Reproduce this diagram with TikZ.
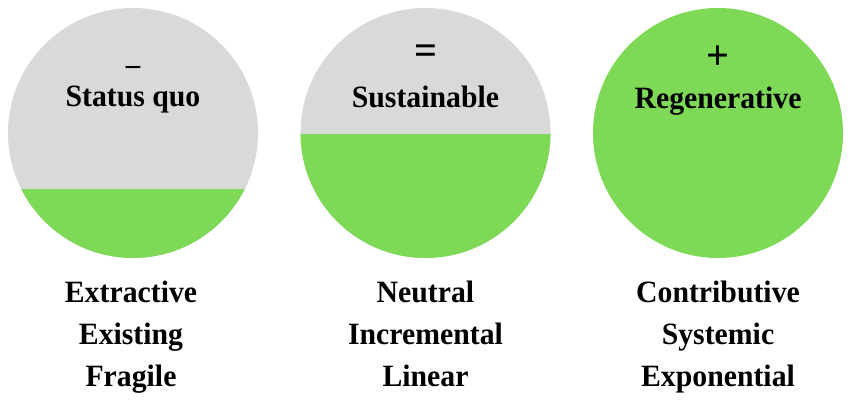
\documentclass[tikz,border=0pt]{standalone}
\usepackage{fontspec}
\setmainfont[FakeStretch=0.96]{Liberation Serif}
\definecolor{discgray}{HTML}{D9D9D9}
\definecolor{discgreen}{HTML}{7ED957}
\begin{document}
\begin{tikzpicture}[x=1pt,y=-1pt,
  disc/.style={circle, minimum size=250pt, inner sep=0pt, draw=none},
  lbl/.style={font=\fontsize{31}{36}\selectfont\bfseries, inner sep=0pt, anchor=base},
  sign/.style={font=\fontsize{30}{36}\selectfont\bfseries, inner sep=0pt, anchor=center},
  bigsign/.style={font=\fontsize{42}{48}\selectfont\bfseries, inner sep=0pt, anchor=center}]
\useasboundingbox[fill=white] (0,0) rectangle (851,403);
% discs
\node[disc, fill=discgray] (c1) at (133,133) {};
\node[disc, fill=discgray] (c2) at (425.5,133) {};
\node[disc, fill=discgreen] (c3) at (718,133) {};
\begin{scope}
  \clip (c1.center) circle [radius=125pt];
  \fill[discgreen] (0,189) rectangle (300,270);
\end{scope}
\begin{scope}
  \clip (c2.center) circle [radius=125pt];
  \fill[discgreen] (290,134) rectangle (570,270);
\end{scope}
% titles
\node[sign] (s1) at (133,70) {–};
\node[bigsign] (s2) at (425.5,54.5) {=};
\node[bigsign] (s3) at (718,57.5) {+};
\node[lbl] (t1) at (133,107) {Status quo};
\node[lbl] (t2) at (425.5,107.5) {Sustainable};
\node[lbl] (t3) at (718,109) {Regenerative};
% bottom lists
\node[lbl] (a1) at (131,302.5) {Extractive};
\node[lbl] (a2) at (131,344.5) {Existing};
\node[lbl] (a3) at (131,386.5) {Fragile};
\node[lbl] (b1) at (425.5,302.5) {Neutral};
\node[lbl] (b2) at (425.5,344.5) {Incremental};
\node[lbl] (b3) at (425.5,386.5) {Linear};
\node[lbl] (d1) at (718,302.5) {Contributive};
\node[lbl] (d2) at (718,344.5) {Systemic};
\node[lbl] (d3) at (718,386.5) {Exponential};
\end{tikzpicture}
\end{document}
